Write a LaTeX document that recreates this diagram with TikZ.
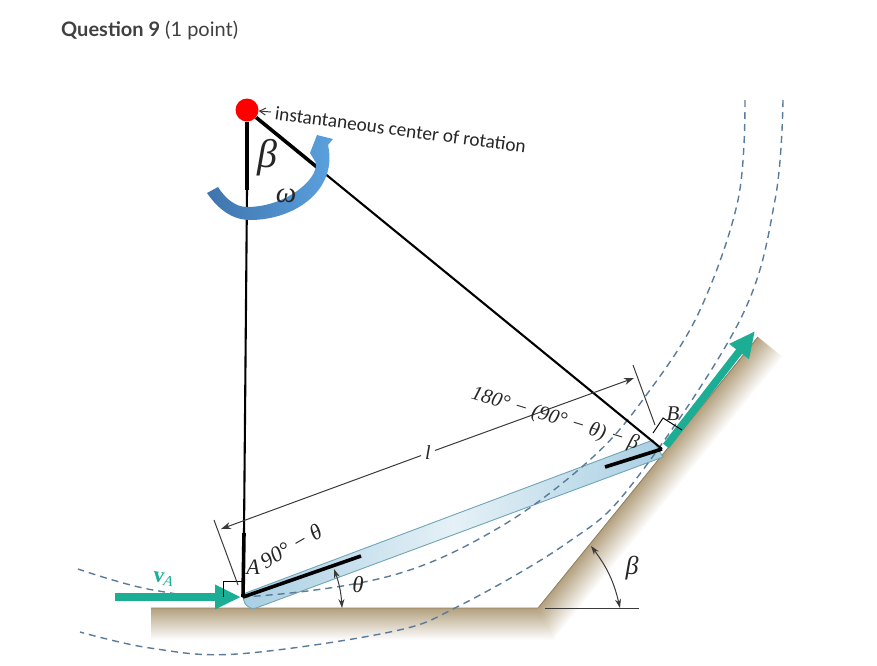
\documentclass[tikz,border=0pt]{standalone}
\usepackage{fontspec}
\setmainfont{Liberation Serif}
\newfontfamily\titlefont{Lato}
\newfontfamily\notefont{Carlito}
\usetikzlibrary{arrows.meta}
\definecolor{tealarrow}{HTML}{1BAE94}
\definecolor{groundtan}{HTML}{B3A07E}
\definecolor{barblue}{HTML}{A9CFE3}
\definecolor{baredge}{HTML}{6FA5B5}
\definecolor{dashblue}{HTML}{5B7B9A}
\definecolor{dimgray}{HTML}{3A3A3A}
\definecolor{spindark}{HTML}{3F74AD}
\definecolor{spinlight}{HTML}{5BA3E0}
\tikzset{
    pathdash/.style={draw=dashblue, line width=1.4pt, dash pattern=on 7pt off 5pt},
    linkthick/.style={line width=3.6pt, black},
    linkthin/.style={line width=2.1pt, black},
    dimline/.style={draw=dimgray, line width=1pt},
    dimarrow/.style={dimline, -{Stealth[length=10pt,width=7pt]}},
    anglearrow/.style={dimline, {Stealth[length=9pt,width=6pt]}-{Stealth[length=9pt,width=6pt]}},
    velarrow/.style={draw=tealarrow, line width=7.5pt, -{Triangle[length=26pt,width=23pt]}},
    lab/.style={inner sep=0pt, text=black!85},
}
\begin{document}
\begin{tikzpicture}[x=1pt, y=-1pt]
    \useasboundingbox (0,0) rectangle (877,665);

    % Ground
    \shade[top color=groundtan, bottom color=white] (151,608) -- (538,608) -- (555,640) -- (151,640) -- cycle;
    \shade[transform canvas={shift={(538,608)}, rotate=51}, top color=groundtan, bottom color=white]
        (0,0) -- (349,0) -- (349,32) -- (-14,32) -- cycle;
    \draw[groundtan!80!black, line width=.8pt] (151,608) -- (538,608) -- (758,337);

    % Bar
    \path[left color=barblue, right color=barblue, middle color=barblue!30, draw=baredge, line width=.9pt]
        (243,594) -- (653,440) -- (663,457) -- (256,608) .. controls (248,610) and (243,604) .. (243,594) -- cycle;

    % Paths of the ends
    \draw[pathdash] plot[smooth, tension=.6] coordinates {(745,100) (738,200) (700,310) (650,390) (593,457) (500,527) (390,576) (243,597) (153,590) (78,569)};
    \draw[pathdash] plot[smooth, tension=.6] coordinates {(783,100) (775,200) (740,320) (633,483) (567,543) (457,607) (390,632) (237,654) (150,648) (80,632)};

    % Define the nodes
    \node[circle, fill=red, minimum size=23pt, inner sep=0pt] (center) at (247,110) {};
    \coordinate (endA) at (243,597);
    \coordinate (endB) at (662,449);
    \coordinate (legup) at (247,190);
    \coordinate (leglow) at (244,533);
    \coordinate (hypo) at (318,168);
    \coordinate (barA) at (361,556);
    \coordinate (barB) at (605,467);

    % Draw the links
    \draw[linkthick] (center) -- (legup);
    \draw[linkthin] (legup) -- (leglow);
    \draw[linkthick] (leglow) -- (endA);
    \draw[linkthick] (center) -- (hypo);
    \draw[linkthin] (hypo) -- (endB);
    \draw[linkthick] (endA) -- (barA);
    \draw[linkthick] (endB) -- (barB);

    % Velocity arrows
    \coordinate (vAstart) at (115,597);
    \coordinate (vAtip) at (241,597);
    \coordinate (vBstart) at (666,446);
    \coordinate (vBtip) at (755,331);
    \draw[velarrow] (vAstart) -- (vAtip);
    \draw[velarrow] (vBstart) -- (vBtip);

    % Spin arrow
    \shade[left color=spindark, right color=spinlight, draw=none]
        (207,193) .. controls (220,212) and (235,220) .. (250,220)
        .. controls (295,220) and (338,190) .. (328,145)
        -- (333,139) -- (317,135) -- (310,153) -- (316,163)
        .. controls (318,180) and (285,207) .. (247,207)
        .. controls (235,207) and (225,198) .. (218,187) -- cycle;

    % Right angle marks
    \coordinate (markA1) at (223,597);
    \coordinate (markA2) at (223,581);
    \coordinate (markA3) at (243,581);
    \draw[black, line width=1pt] (markA1) -- (markA2) -- (markA3);
    \coordinate (markB1) at (653,433);
    \coordinate (markB2) at (663,418);
    \coordinate (markB3) at (682,430);
    \draw[black, line width=1pt] (markB1) -- (markB2) -- (markB3);

    % Dimension of the bar
    \coordinate (extA1) at (214,520);
    \coordinate (extA2) at (238,585);
    \coordinate (extB1) at (633,365);
    \coordinate (extB2) at (655,425);
    \coordinate (dimA) at (221,529);
    \coordinate (dimB) at (634,378);
    \draw[dimline] (extA1) -- (extA2);
    \draw[dimline] (extB1) -- (extB2);
    \node[lab, font=\itshape\fontsize{20}{20}\selectfont, fill=white, inner xsep=4pt] (barlen) at (428,453) {l};
    \draw[dimarrow] (barlen) -- (dimA);
    \draw[dimarrow] (barlen) -- (dimB);

    % Angle arrows
    \coordinate (thetaup) at (334,569);
    \coordinate (thetalow) at (342,608);
    \draw[anglearrow] (thetaup) to[bend left=8] (thetalow);
    \coordinate (betaup) at (591,546);
    \coordinate (betalow) at (620,608);
    \draw[anglearrow] (betaup) to[bend left=12] (betalow);
    \coordinate (horl) at (545,608);
    \coordinate (horr) at (639,608);
    \draw[dimline] (horl) -- (horr);

    % Pointer to the center
    \coordinate (pointer) at (271,112);
    \draw[dimline, -{Straight Barb[length=6pt,width=7pt]}] (pointer) -- (center);

    % Labels
    \node[anchor=west, inner sep=0pt, font=\titlefont\fontsize{20}{20}\selectfont, text=black!75] (title) at (61,30) {\textbf{Question 9} (1 point)};
    \node[anchor=west, inner sep=0pt, rotate=-7.6, font=\notefont\fontsize{19.3}{20}\selectfont, text=black!85] (note) at (275,113) {instantaneous center of rotation};
    \node[lab, font=\itshape\fontsize{40}{40}\selectfont] (betatop) at (267,158) {β};
    \node[lab, font=\itshape\fontsize{29}{29}\selectfont] (omega) at (286,196) {ω};
    \node[lab, rotate=-17, font=\itshape\fontsize{20.5}{21}\selectfont] (bigangle) at (555,419) {180° − (90° − θ) − β};
    \node[lab, rotate=30, font=\itshape\fontsize{22}{22}\selectfont] (smallangle) at (291,546) {90° − θ};
    \node[lab, font=\itshape\fontsize{22}{22}\selectfont] (labA) at (253,567) {A};
    \node[lab, font=\itshape\fontsize{21}{21}\selectfont] (labB) at (673,414) {B};
    \node[lab, font=\itshape\fontsize{23}{23}\selectfont] (theta) at (358,585) {θ};
    \node[lab, font=\itshape\fontsize{26}{26}\selectfont] (betabase) at (632,568) {β};
    \node[lab, text=tealarrow, rotate=-8, font=\fontsize{22}{22}\selectfont] (labv) at (163,579) {\textbf{v}\raisebox{-3pt}{\fontsize{15}{15}\selectfont\itshape A}};
\end{tikzpicture}
\end{document}
